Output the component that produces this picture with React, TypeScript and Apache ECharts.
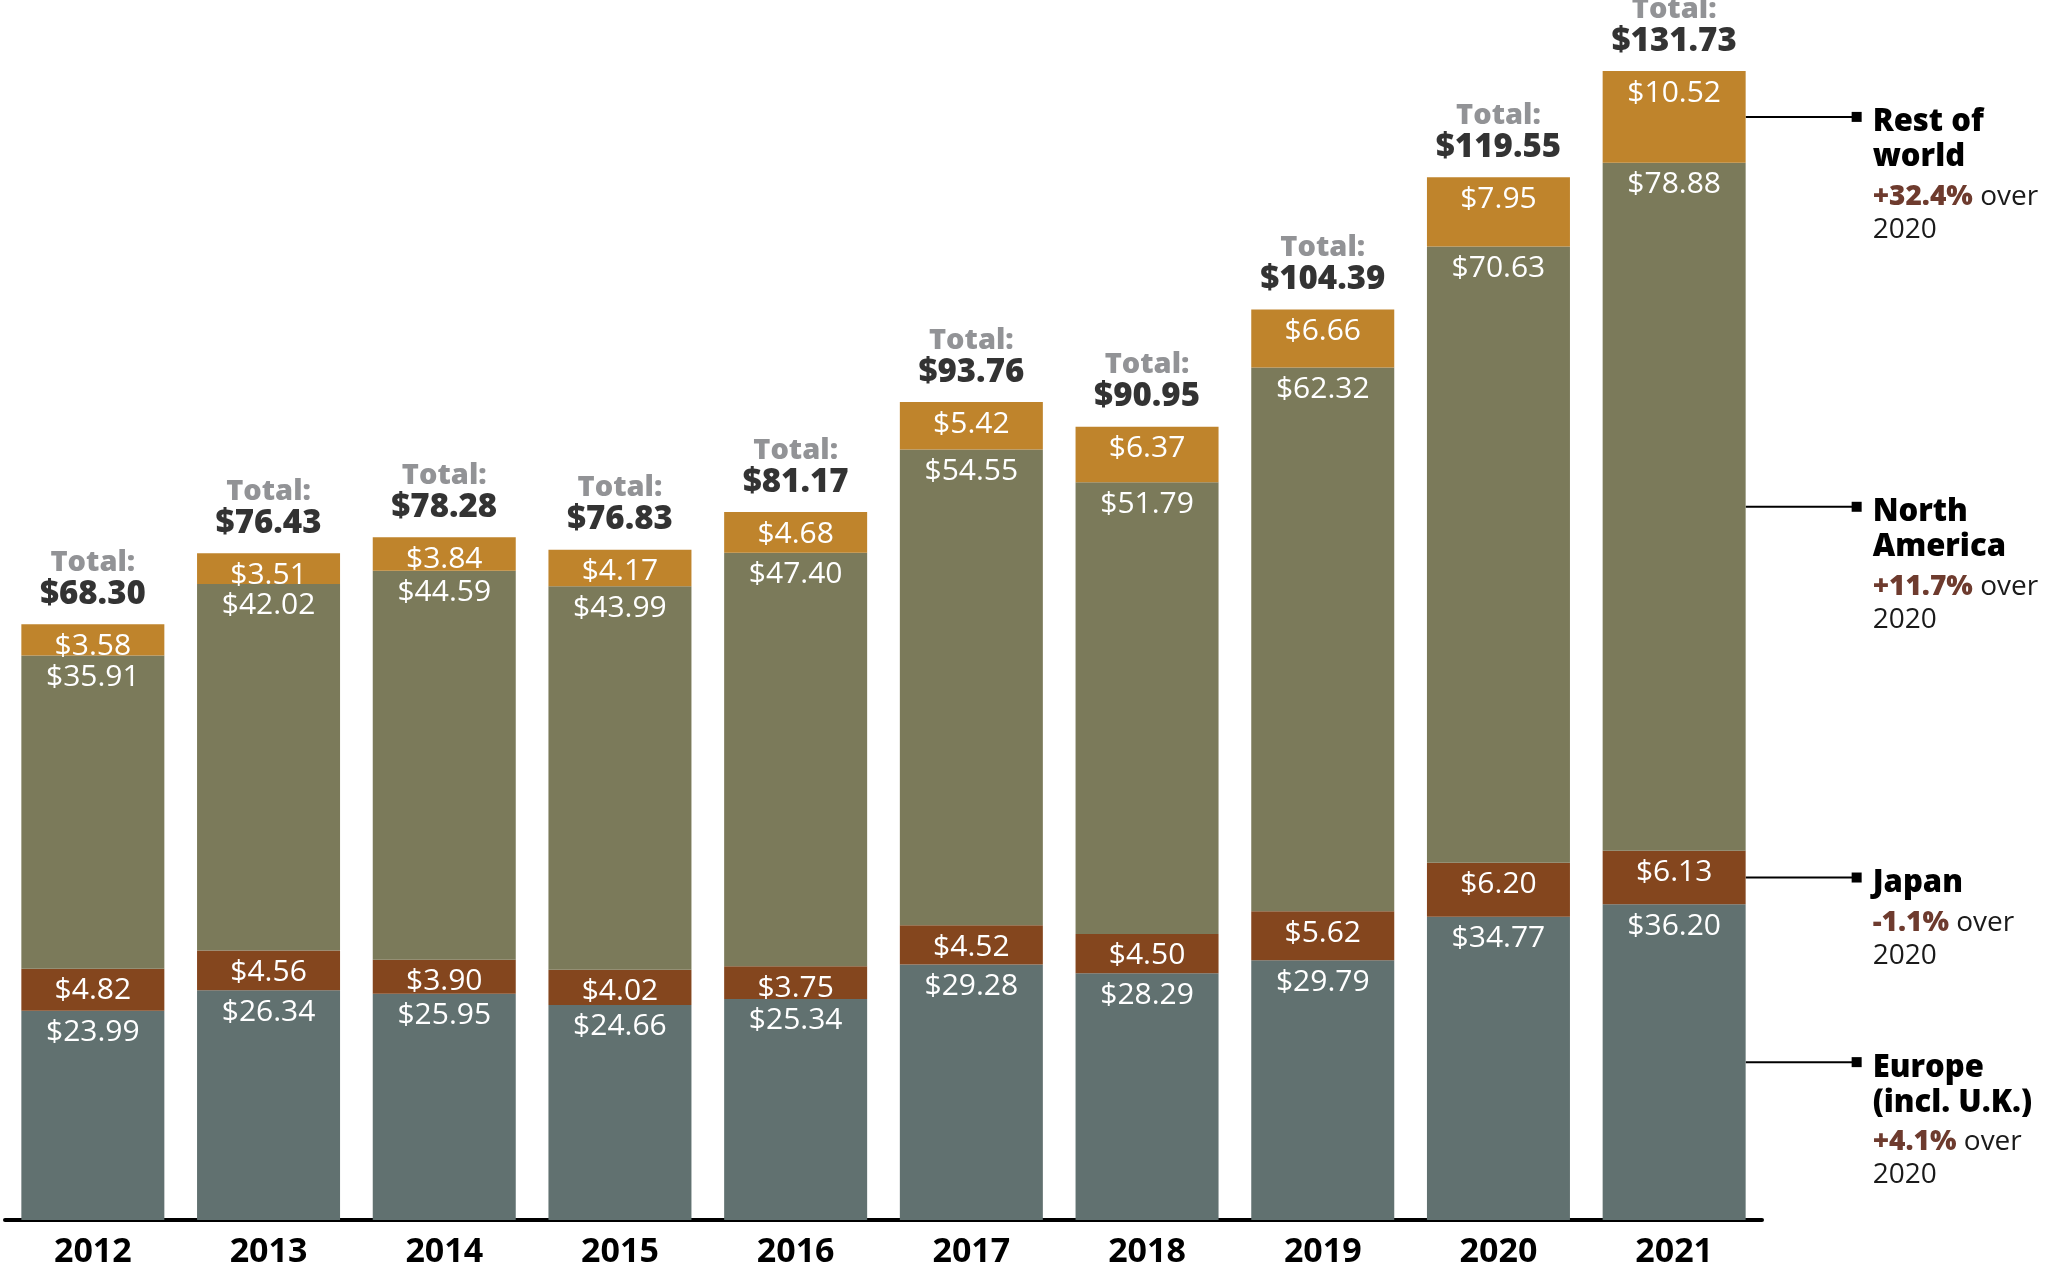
import { useEffect, useRef } from "react";
import * as echarts from "echarts";

const years = ["2012", "2013", "2014", "2015", "2016", "2017", "2018", "2019", "2020", "2021"];
const europe = [23.99, 26.34, 25.95, 24.66, 25.34, 29.28, 28.29, 29.79, 34.77, 36.2];
const japan = [4.82, 4.56, 3.9, 4.02, 3.75, 4.52, 4.5, 5.62, 6.2, 6.13];
const northAmerica = [35.91, 42.02, 44.59, 43.99, 47.4, 54.55, 51.79, 62.32, 70.63, 78.88];
const restOfWorld = [3.58, 3.51, 3.84, 4.17, 4.68, 5.42, 6.37, 6.66, 7.95, 10.52];
const totals = [68.3, 76.43, 78.28, 76.83, 81.17, 93.76, 90.95, 104.39, 119.55, 131.73];

const seriesNames = ["Europe (incl. U.K.)", "Japan", "North America", "Rest of world"];
const regionLabelLines = [["Europe", "(incl. U.K.)"], ["Japan"], ["North", "America"], ["Rest of", "world"]];
const regionChange = ["+4.1%", "-1.1%", "+11.7%", "+32.4%"];
const changeSuffix = " over";
const changeYear = "2020";
const colors = ["#617170", "#84461E", "#7B7A5A", "#BF842C"];

export default function App() {
  const ref = useRef<HTMLDivElement>(null);
  useEffect(() => {
    const chart = echarts.init(ref.current!, null, { renderer: "svg" });
    const FONT = "'Open Sans', 'Noto Sans', sans-serif";
    const stacks = [europe, japan, northAmerica, restOfWorld];
    const barWidth = 143;

    const barSeries = stacks.map((data, i) => ({
      type: "bar",
      name: seriesNames[i],
      stack: "total",
      data,
      barWidth,
      itemStyle: { color: colors[i] },
      label: {
        show: true,
        position: "insideTop",
        distance: 4,
        color: "#ffffff",
        fontFamily: FONT,
        fontSize: 30,
        lineHeight: 30,
        textBorderWidth: 0,
        formatter: (p: any) => "$" + Number(p.value).toFixed(2),
      },
    }));

    chart.setOption({
      animation: false,
      grid: { left: 5, right: 286, top: 42.5, bottom: 52 },
      xAxis: {
        type: "category",
        data: years,
        axisLine: { show: true, lineStyle: { color: "#000", width: 4 } },
        axisTick: { show: false },
        axisLabel: { color: "#000", fontFamily: FONT, fontSize: 34, fontWeight: "bold", margin: 12 },
      },
      yAxis: { type: "value", min: 0, max: 135, show: false, splitLine: { show: false } },
      series: [
        ...barSeries,
        {
          type: "scatter",
          data: totals,
          symbolSize: 1,
          itemStyle: { color: "rgba(0,0,0,0)" },
          z: 10,
          label: {
            show: true,
            position: "top",
            distance: 16,
            formatter: (p: any) => `{t|Total:}\n{v|$${Number(p.value).toFixed(2)}}`,
            rich: {
              t: { fontFamily: FONT, fontSize: 29, fontWeight: 800, color: "#77787c", lineHeight: 31, align: "center" },
              v: { fontFamily: FONT, fontSize: 33, fontWeight: 800, color: "#000", lineHeight: 33, align: "center" },
            },
          },
        },
      ],
    });

    const last = years.length - 1;
    let cum = 0;
    const graphics: any[] = [];
    stacks.forEach((data, i) => {
      const v = data[last];
      const mid = cum + v / 2;
      cum += v;
      const [cx, cy] = chart.convertToPixel({ seriesIndex: 0 }, [last, mid]) as number[];
      const x0 = cx + barWidth / 2;
      const lines = regionLabelLines[i];
      graphics.push({
        type: "line",
        shape: { x1: x0, y1: cy, x2: x0 + 110, y2: cy },
        style: { stroke: "#000", lineWidth: 2 },
      });
      graphics.push({
        type: "rect",
        shape: { x: x0 + 106, y: cy - 5, width: 10, height: 10 },
        style: { fill: "#000" },
      });
      graphics.push({
        type: "text",
        x: x0 + 127,
        y: cy - 15,
        style: {
          text: lines.join("\n"),
          fontFamily: FONT,
          fontSize: 31,
          fontWeight: 800,
          lineHeight: 35,
          fill: "#000",
          verticalAlign: "top",
          align: "left",
        },
      });
      const lastCenter = cy + 2 + 35 * (lines.length - 1);
      graphics.push({
        type: "text",
        x: x0 + 127,
        y: lastCenter + 40 - 16.5,
        style: {
          text: `{p|${regionChange[i]}}{o|${changeSuffix}}\n{o|${changeYear}}`,
          verticalAlign: "top",
          align: "left",
          rich: {
            p: { fontFamily: FONT, fontSize: 28, fontWeight: 800, fill: "#6E3B2E", lineHeight: 33 },
            o: { fontFamily: FONT, fontSize: 28, fontWeight: "normal", fill: "#1a1a1a", lineHeight: 33 },
          },
        },
      });
    });
    chart.setOption({ graphic: graphics });

    return () => chart.dispose();
  }, []);
  return <div ref={ref} style={{ position: "fixed", left: 0, top: 0, width: 2048, height: 1272 }} />;
}
